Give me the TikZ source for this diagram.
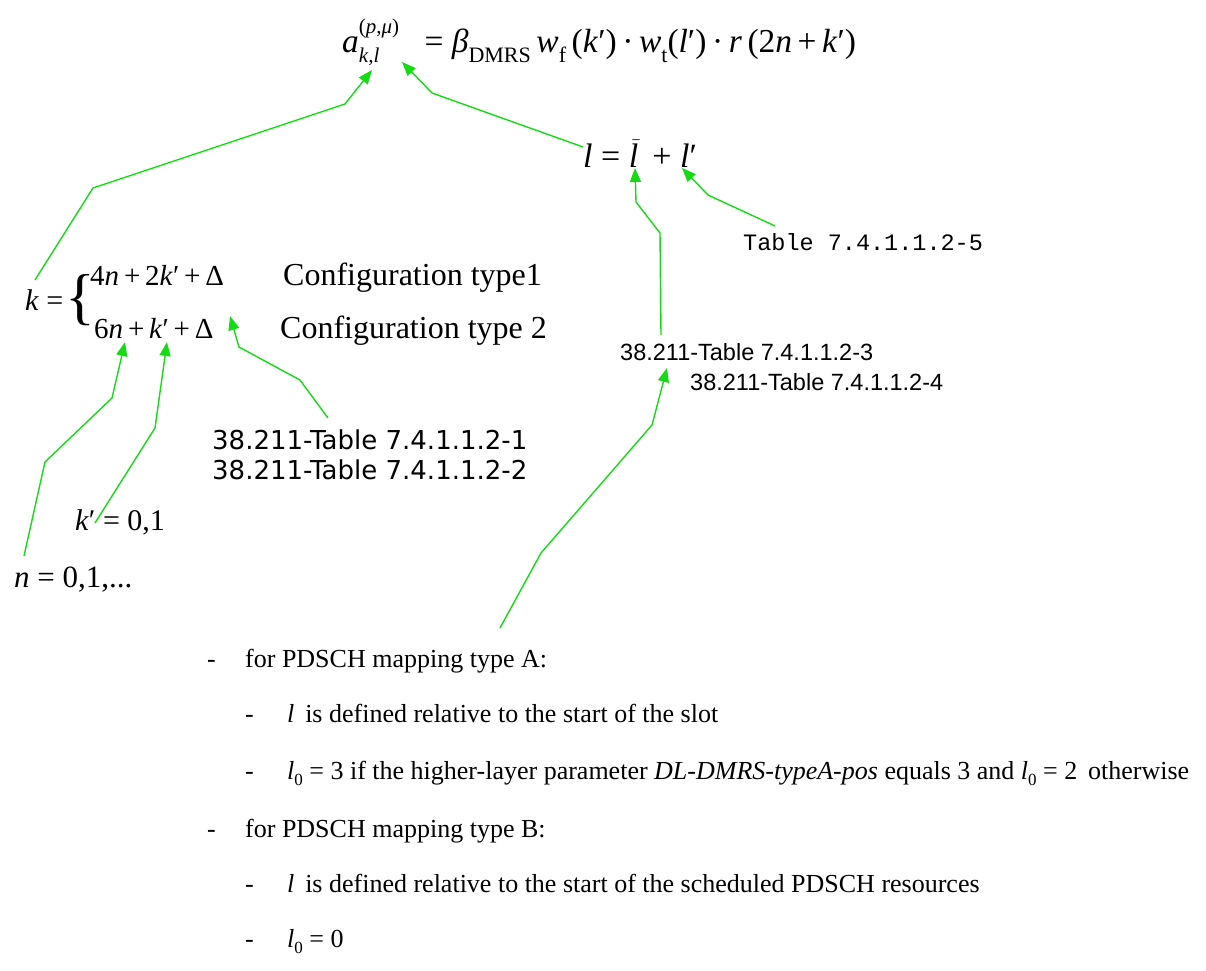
\documentclass[tikz,border=0pt]{standalone}
\usepackage{fontspec}
\setmainfont{Liberation Serif}
\newfontfamily\dejavu{DejaVu Sans}
\newfontfamily\libsans{Liberation Sans}
\newfontfamily\libmono{Liberation Mono}
\usetikzlibrary{arrows.meta}
\definecolor{arr}{RGB}{20,220,20}
\newcommand\iv[1]{\textit{#1}}
\newcommand\subsup[2]{\makebox[0pt][l]{\raisebox{0.55em}{\fontsize{21}{21}\selectfont #2}}\raisebox{-0.3em}{\fontsize{21}{21}\selectfont #1}}
\begin{document}
\begin{tikzpicture}[x=1pt,y=-1pt,
  ptr/.style={draw=arr,line width=1.4pt,-{Triangle[length=14pt,width=11pt]}},
  txt/.style={inner sep=0pt,anchor=base west},
  body/.style={txt,font=\fontsize{26}{30}\selectfont}]
\useasboundingbox (0,0) rectangle (1206,970);
% top equation
\node[txt,font=\fontsize{33.5}{35}\selectfont] (top) at (342,52)
 {\iv{a}\subsup{\iv{k,l}}{(\iv{p},\iv{μ})}\hspace{1.35em}= \iv{β}\raisebox{-0.3em}{\fontsize{22}{22}\selectfont DMRS}\,\iv{w}\raisebox{-0.3em}{\fontsize{22}{22}\selectfont f}\,(\iv{k}′)\,·\,\iv{w}\raisebox{-0.3em}{\fontsize{22}{22}\selectfont t}(\iv{l}′)\,·\,\iv{r}\,(2\iv{n}\,+\,\iv{k}′)};
\coordinate (ak) at (372,70);
\coordinate (al) at (402,62);
% l eq
\node[txt,font=\fontsize{34}{36}\selectfont] (leq) at (583,167) {\iv{l} = \makebox[0pt][l]{\hspace{0.08em}\raisebox{0.62em}{\fontsize{16}{16}\selectfont\textminus}}\iv{l}\, + \iv{l}′};
\coordinate (lbar) at (635,168);
\coordinate (lp) at (682,168);
\node[txt,font=\libmono\fontsize{23.5}{25}\selectfont] (t5) at (743,250) {Table 7.4.1.1.2-5};
% k eq
\node[txt,font=\fontsize{30}{32}\selectfont] (keq) at (25,310) {\iv{k} =};
\node[inner sep=0pt,font=\fontsize{62}{62}\selectfont] (brace) at (80,300) {\{};
\node[txt,font=\fontsize{29}{32}\selectfont] (r1) at (90,285) {4\iv{n}\,+\,2\iv{k}′\,+\,Δ};
\node[txt,font=\fontsize{32}{34}\selectfont] (c1) at (283,285) {Configuration type1};
\node[txt,font=\fontsize{29}{32}\selectfont] (r2) at (94,338) {6\iv{n}\,+\,\iv{k}′\,+\,Δ};
\node[txt,font=\fontsize{32}{34}\selectfont] (c2) at (280,338) {Configuration type 2};
\coordinate (nn) at (125,342);
\coordinate (kk) at (167,342);
\coordinate (dd) at (230,316);
\node[txt,font=\dejavu\fontsize{26}{28}\selectfont] (t12) at (212,449) {38.211-Table 7.4.1.1.2-1};
\node[txt,font=\dejavu\fontsize{26}{28}\selectfont] (t22) at (212,479) {38.211-Table 7.4.1.1.2-2};
\node[txt,font=\fontsize{30}{32}\selectfont] (kp) at (75,530) {\iv{k}′ = 0,1};
\node[txt,font=\fontsize{31}{32}\selectfont] (nv) at (14,587) {\iv{n} = 0,1,...};
\node[txt,font=\libsans\fontsize{23.5}{25}\selectfont] (t3) at (620,360) {38.211-Table 7.4.1.1.2-3};
\node[txt,font=\libsans\fontsize{23.5}{25}\selectfont] (t4) at (690,390) {38.211-Table 7.4.1.1.2-4};
\coordinate (t3a) at (667,368);
% arrows
\draw[ptr] (35,280) -- (93,188) -- (345,104) -- (ak);
\draw[ptr] (583,147) -- (432,93) -- (al);
\draw[ptr] (661,335) -- (660,233) -- (636,202) -- (lbar);
\draw[ptr] (775,226) -- (708,195) -- (lp);
\draw[ptr] (24,556) -- (45,462) -- (112,398) -- (nn);
\draw[ptr] (95,523) -- (155,428) -- (kk);
\draw[ptr] (328,418) -- (300,380) -- (239,347) -- (dd);
\draw[ptr] (500,628) -- (541,553) -- (652,425) -- (t3a);
% bullets
\node[body] (d1) at (207,667) {-};
\node[body] (b1) at (245,667) {for PDSCH mapping type A:};
\node[body] (d2) at (245,722) {-};
\node[body] (b2) at (287,722) {\iv{l}\, is defined relative to the start of the slot};
\node[body] (d3) at (245,779) {-};
\node[body] (b3) at (287,779) {\iv{l}\raisebox{-0.25em}{\fontsize{17}{17}\selectfont 0} = 3 if the higher-layer parameter \iv{DL-DMRS-typeA-pos} equals 3 and \iv{l}\raisebox{-0.25em}{\fontsize{17}{17}\selectfont 0} = 2\, otherwise};
\node[body] (d4) at (207,837) {-};
\node[body] (b4) at (245,837) {for PDSCH mapping type B:};
\node[body] (d5) at (245,892) {-};
\node[body] (b5) at (287,892) {\iv{l}\, is defined relative to the start of the scheduled PDSCH resources};
\node[body] (d6) at (245,947) {-};
\node[body] (b6) at (287,947) {\iv{l}\raisebox{-0.25em}{\fontsize{17}{17}\selectfont 0} = 0};
\end{tikzpicture}
\end{document}
